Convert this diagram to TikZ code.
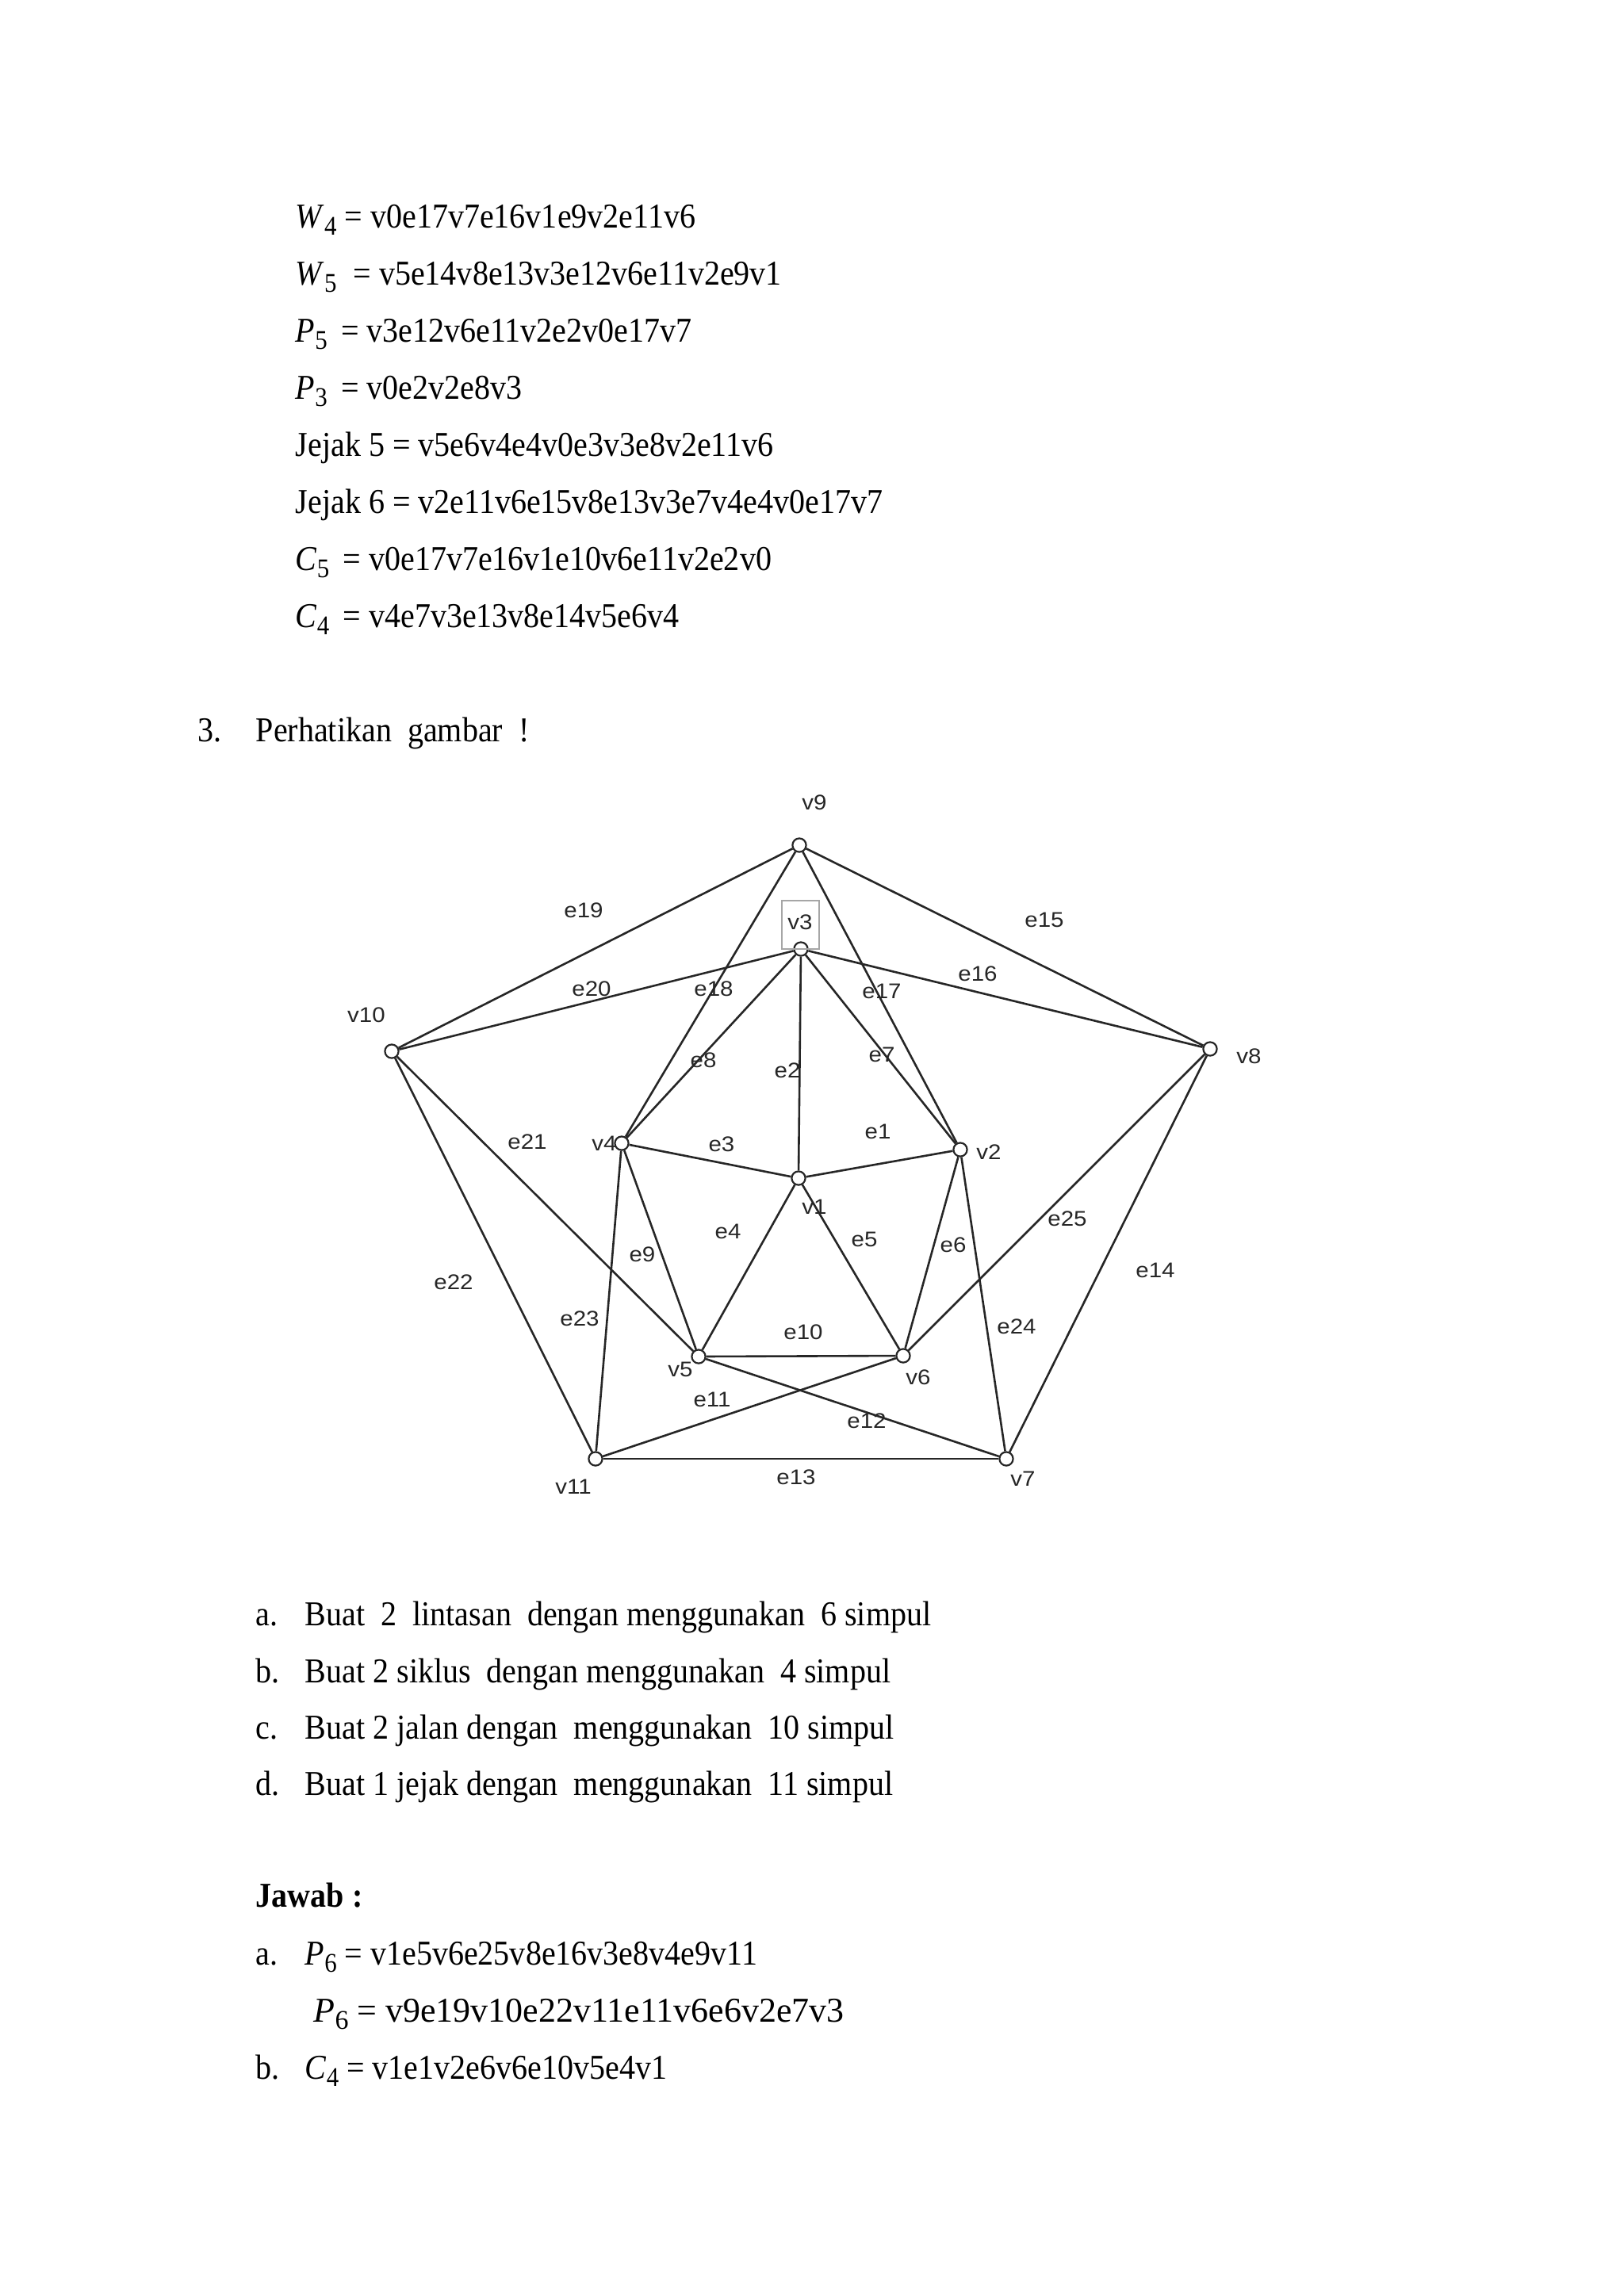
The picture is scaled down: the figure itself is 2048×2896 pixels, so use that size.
\documentclass[tikz,border=0pt]{standalone}
\usepackage{fontspec}
\setmainfont{Liberation Serif}
\newfontfamily\lblfont{Liberation Sans}
\newcommand\vsub[2]{\textit{#1}\raisebox{-0.45ex}{\fontsize{8.5}{8.5}\selectfont #2}}
\newcommand\tx[1]{\scalebox{0.91}[1]{#1}}
\newcommand\lx[1]{\scalebox{1.1}[1]{#1}}
\begin{document}
\begin{tikzpicture}[x=0.25pt,y=-0.25pt,
  txt/.style={anchor=base west,inner sep=0pt,font=\fontsize{11}{13}\selectfont},
  vtx/.style={circle,draw=black!85,fill=white,line width=0.55pt,minimum size=4.3pt,inner sep=0pt},
  lbl/.style={inner sep=0pt,text=black!85,font=\lblfont\fontsize{6.7}{7}\selectfont},
  edge/.style={draw=black!85,line width=0.65pt}]
\useasboundingbox (0,0) rectangle (2048,2896);
% ---------- text above ----------
\node[txt] (t1) at (372,287) {\tx{\vsub{W}{4} = v0e17v7e16v1e9v2e11v6}};
\node[txt] (t2) at (372,359) {\tx{\vsub{W}{5}\hspace{3pt} = v5e14v8e13v3e12v6e11v2e9v1}};
\node[txt] (t3) at (372,431) {\tx{\vsub{P}{5}\hspace{2pt} = v3e12v6e11v2e2v0e17v7}};
\node[txt] (t4) at (372,503) {\tx{\vsub{P}{3}\hspace{2pt} = v0e2v2e8v3}};
\node[txt] (t5) at (372,575) {\tx{Jejak 5 = v5e6v4e4v0e3v3e8v2e11v6}};
\node[txt] (t6) at (372,647) {\tx{Jejak 6 = v2e11v6e15v8e13v3e7v4e4v0e17v7}};
\node[txt] (t7) at (372,719) {\tx{\vsub{C}{5}\hspace{2pt} = v0e17v7e16v1e10v6e11v2e2v0}};
\node[txt] (t8) at (372,791) {\tx{\vsub{C}{4}\hspace{2pt} = v4e7v3e13v8e14v5e6v4}};
\node[txt] (q3n) at (249,935) {\tx{3.}};
\node[txt] (q3) at (322,935) {\tx{Perhatikan\ \ gambar\ \ !}};
% ---------- graph ----------
\node[vtx] (v9) at (1008,1066) {};
\node[vtx] (v3) at (1010,1197) {};
\node[vtx] (v10) at (494,1326) {};
\node[vtx] (v8) at (1526,1323) {};
\node[vtx] (v4) at (784,1442) {};
\node[vtx] (v2) at (1211,1450) {};
\node[vtx] (v1) at (1007,1486) {};
\node[vtx] (v5) at (881,1711) {};
\node[vtx] (v6) at (1139,1710) {};
\node[vtx] (v11) at (751,1840) {};
\node[vtx] (v7) at (1269,1840) {};
\draw[edge] (v9) -- (v10);
\draw[edge] (v9) -- (v8);
\draw[edge] (v9) -- (v4);
\draw[edge] (v9) -- (v2);
\draw[edge] (v3) -- (v10);
\draw[edge] (v3) -- (v8);
\draw[edge] (v3) -- (v4);
\draw[edge] (v3) -- (v1);
\draw[edge] (v3) -- (v2);
\draw[edge] (v4) -- (v1);
\draw[edge] (v2) -- (v1);
\draw[edge] (v1) -- (v5);
\draw[edge] (v1) -- (v6);
\draw[edge] (v2) -- (v6);
\draw[edge] (v4) -- (v5);
\draw[edge] (v5) -- (v6);
\draw[edge] (v5) -- (v7);
\draw[edge] (v6) -- (v11);
\draw[edge] (v11) -- (v7);
\draw[edge] (v8) -- (v7);
\draw[edge] (v8) -- (v6);
\draw[edge] (v2) -- (v7);
\draw[edge] (v4) -- (v11);
\draw[edge] (v10) -- (v5);
\draw[edge] (v10) -- (v11);
% vertex labels
\node[lbl] (l9) at (1027,1012) {\lx{v9}};
\node[lbl] (l3) at (1009,1163) {\lx{v3}};
\draw[black!35,line width=0.35pt] (986,1136) rectangle (1033,1197);
\node[lbl] (l10) at (462,1280) {\lx{v10}};
\node[lbl] (l8) at (1575,1332) {\lx{v8}};
\node[lbl] (l4) at (762,1442) {\lx{v4}};
\node[lbl] (l2) at (1247,1453) {\lx{v2}};
\node[lbl] (l1) at (1027,1522) {\lx{v1}};
\node[lbl] (l5) at (858,1727) {\lx{v5}};
\node[lbl] (l6) at (1158,1737) {\lx{v6}};
\node[lbl] (l11) at (723,1875) {\lx{v11}};
\node[lbl] (l7) at (1290,1865) {\lx{v7}};
% edge labels
\node[lbl] (e19) at (736,1148) {\lx{e19}};
\node[lbl] (e15) at (1317,1160) {\lx{e15}};
\node[lbl] (e20) at (746,1247) {\lx{e20}};
\node[lbl] (e18) at (900,1247) {\lx{e18}};
\node[lbl] (e17) at (1112,1250) {\lx{e17}};
\node[lbl] (e16) at (1233,1228) {\lx{e16}};
\node[lbl] (e8) at (887,1337) {\lx{e8}};
\node[lbl] (e2) at (993,1350) {\lx{e2}};
\node[lbl] (e7) at (1112,1330) {\lx{e7}};
\node[lbl] (e1) at (1107,1427) {\lx{e1}};
\node[lbl] (e21) at (665,1440) {\lx{e21}};
\node[lbl] (e3) at (910,1443) {\lx{e3}};
\node[lbl] (e4) at (918,1553) {\lx{e4}};
\node[lbl] (e5) at (1090,1563) {\lx{e5}};
\node[lbl] (e6) at (1202,1570) {\lx{e6}};
\node[lbl] (e25) at (1346,1537) {\lx{e25}};
\node[lbl] (e9) at (810,1582) {\lx{e9}};
\node[lbl] (e14) at (1457,1602) {\lx{e14}};
\node[lbl] (e22) at (572,1617) {\lx{e22}};
\node[lbl] (e23) at (731,1663) {\lx{e23}};
\node[lbl] (e24) at (1282,1673) {\lx{e24}};
\node[lbl] (e10) at (1013,1680) {\lx{e10}};
\node[lbl] (e11) at (898,1765) {\lx{e11}};
\node[lbl] (e12) at (1093,1792) {\lx{e12}};
\node[lbl] (e13) at (1004,1863) {\lx{e13}};
% ---------- text below ----------
\node[txt] (qa) at (322,2050) {\tx{a.}};
\node[txt] (qat) at (384,2050) {\tx{Buat\ \ 2\ \ lintasan\ \ dengan menggunakan\ \ 6 simpul}};
\node[txt] (qb) at (322,2122) {\tx{b.}};
\node[txt] (qbt) at (384,2122) {\tx{Buat 2 siklus\ \ dengan menggunakan\ \ 4 simpul}};
\node[txt] (qc) at (322,2193) {\tx{c.}};
\node[txt] (qct) at (384,2193) {\tx{Buat 2 jalan dengan\ \ menggunakan\ \ 10 simpul}};
\node[txt] (qd) at (322,2264) {\tx{d.}};
\node[txt] (qdt) at (384,2264) {\tx{Buat 1 jejak dengan\ \ menggunakan\ \ 11 simpul}};
\node[txt] (jw) at (322,2405) {\tx{\textbf{Jawab :}}};
\node[txt] (aa) at (322,2478) {\tx{a.}};
\node[txt] (aat) at (384,2478) {\tx{\vsub{P}{6} = v1e5v6e25v8e16v3e8v4e9v11}};
\node[txt] (aat2) at (395,2550) {\vsub{P}{6} = v9e19v10e22v11e11v6e6v2e7v3};
\node[txt] (ab) at (322,2622) {\tx{b.}};
\node[txt] (abt) at (384,2622) {\tx{\vsub{C}{4} = v1e1v2e6v6e10v5e4v1}};
\end{tikzpicture}
\end{document}
